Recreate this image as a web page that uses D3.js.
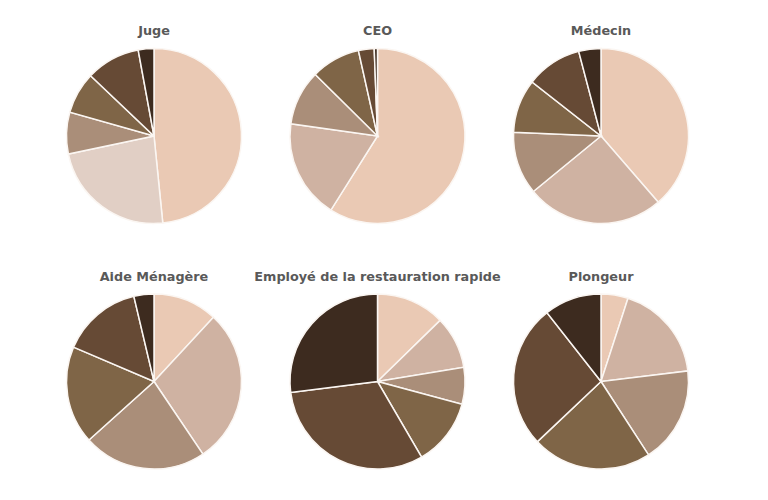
<!DOCTYPE html>
<html>
<head>
<meta charset="utf-8">
<script src="https://cdn.jsdelivr.net/npm/d3@7"></script>
<style>
  body { margin: 0; background: #fff; }
</style>
</head>
<body>
<div id="chart"></div>
<script>
// slices go clockwise from 12 o'clock, lightest to darkest
let jobs = ['Juge', 'CEO', 'Médecin', 'Aide Ménagère', 'Employé de la restauration rapide', 'Plongeur']
let groups = ['g1', 'g2', 'g3', 'g4', 'g5', 'g6']

let juge = [48.4, 23.3, 7.7, 7.7, 10.0, 2.9]
let ceo = [59.0, 18.3, 10.2, 9.1, 2.9, 0.6]
let medecin = [38.6, 25.4, 11.6, 9.9, 10.3, 4.1]
let aide = [11.9, 28.7, 22.8, 18.1, 14.9, 3.7]
let employe = [12.7, 9.7, 6.8, 12.4, 31.4, 27.0]
let plongeur = [5.0, 18.1, 17.8, 22.1, 26.5, 10.6]

let colors = ['#eac9b4', '#cfb2a2', '#aa8e79', '#7f6547', '#664a35', '#3d2b1f']

// the reference has one slice shown faded (hovered)
let faded = { job: 'Juge', group: 'g2' }

let allValues = [juge, ceo, medecin, aide, employe, plongeur]

let width = 768
let height = 500
let radius = 87.5

let svg = d3
  .select('#chart')
  .append('svg')
  .attr('width', width)
  .attr('height', height)

let xPositions = d3.scalePoint().domain([0, 1, 2]).range([154, 601])
let yPositions = d3.scalePoint().domain([0, 1]).range([136, 381.5])

let colorScale = d3.scaleOrdinal().domain(groups).range(colors)

let pie = d3
  .pie()
  .sort(null)
  .value(d => d.value)

let arc = d3
  .arc()
  .innerRadius(0)
  .outerRadius(radius)

let cells = jobs.map((job, i) => ({
  job: job,
  col: i % 3,
  row: Math.floor(i / 3),
  slices: groups.map((g, j) => ({ group: g, value: allValues[i][j] }))
}))

svg
  .selectAll('.pie')
  .data(cells)
  .enter()
  .append('g')
  .attr('class', 'pie')
  .attr('transform', d => `translate(${xPositions(d.col)},${yPositions(d.row)})`)
  .each(function(d) {
    let g = d3.select(this)

    g.selectAll('path')
      .data(pie(d.slices))
      .enter()
      .append('path')
      .attr('d', arc)
      .attr('fill', s => colorScale(s.data.group))
      .attr('fill-opacity', s =>
        d.job === faded.job && s.data.group === faded.group ? 0.62 : 1
      )
      .attr('stroke', '#fbf6f2')
      .attr('stroke-width', 1.5)

    g.append('text')
      .attr('x', 0)
      .attr('y', -radius - 13.5)
      .attr('text-anchor', 'middle')
      .attr('font-family', 'DejaVu Sans, Verdana, sans-serif')
      .attr('font-weight', 'bold')
      .attr('font-size', 12.8)
      .attr('fill', '#595959')
      .text(d.job)
  })
</script>
</body>
</html>
